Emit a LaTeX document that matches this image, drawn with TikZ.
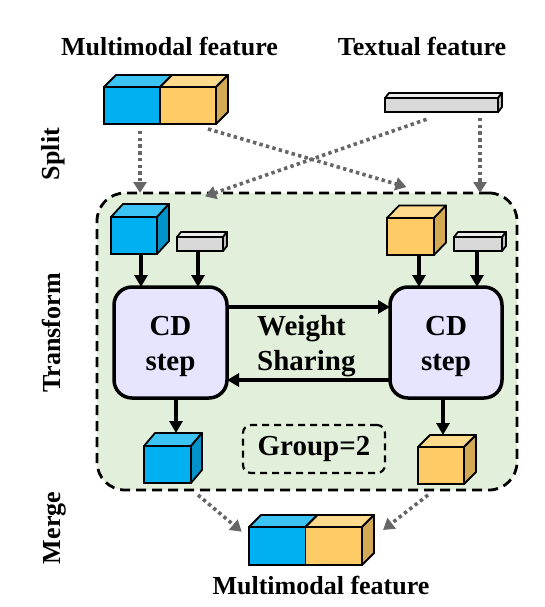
\documentclass[tikz,border=0pt]{standalone}
\usepackage{fontspec}
\setmainfont{Liberation Serif}
\usetikzlibrary{arrows.meta,calc}
\definecolor{cblue}{HTML}{00B0F0}
\definecolor{cbluetop}{HTML}{3CC3F5}
\definecolor{cblueside}{HTML}{0093CA}
\definecolor{corange}{HTML}{FFCB66}
\definecolor{corangetop}{HTML}{FFD98C}
\definecolor{corangeside}{HTML}{D4A955}
\definecolor{cgray}{HTML}{D9D9D9}
\definecolor{cgraytop}{HTML}{EBEBEB}
\definecolor{cgrayside}{HTML}{BFBFBF}
\definecolor{cgreen}{HTML}{E2EFDA}
\definecolor{clav}{HTML}{E6E4FF}
\definecolor{dgray}{HTML}{666666}
\newcommand\topface[4]{%
  \draw[edge, fill=#4] (#1.north west) -- ++(#2,#3) -- ($(#1.north east)+(#2,#3)$) -- (#1.north east) -- cycle;}
\newcommand\sideface[4]{%
  \draw[edge, fill=#4] (#1.north east) -- ++(#2,#3) -- ($(#1.south east)+(#2,#3)$) -- (#1.south east) -- cycle;}
\tikzset{
  edge/.style={draw=black, line width=1.8pt, line join=round},
  face/.style={draw=black, line width=1.8pt, inner sep=0pt, outer sep=0pt},
  lbl/.style={font=\bfseries\fontsize{26}{30}\selectfont, inner sep=0pt},
  big/.style={font=\bfseries\fontsize{29}{35}\selectfont, inner sep=0pt},
  cdbox/.style={draw=black, line width=3.5pt, fill=clav, rounded corners=18pt, minimum width=113pt, minimum height=111pt, align=center, inner sep=0pt, outer sep=0pt, font=\bfseries\fontsize{29}{35}\selectfont},
  arr/.style={line width=3.2pt, -{Triangle[width=13pt,length=12pt]}},
  dots/.style={draw=dgray, line width=3.6pt, dash pattern=on 3.4pt off 3.3pt, -{Triangle[width=13pt,length=11pt]}, color=dgray},
}
\begin{document}
\begin{tikzpicture}[x=1pt,y=1pt]
\useasboundingbox (0,0) rectangle (545,-607);
% container
\node[draw=black, fill=cgreen, line width=2.8pt, dash pattern=on 10pt off 6pt, rounded corners=28pt, minimum width=420pt, minimum height=297pt, inner sep=0pt, outer sep=0pt] (grp) at (307,-341.5) {};
% labels
\node[lbl, anchor=base] (tMM) at (169.5,-56) {Multimodal feature};
\node[lbl, anchor=base] (tTX) at (422,-56) {Textual feature};
\node[lbl, anchor=base] (bMM) at (321,-594) {Multimodal feature};
\node[lbl, rotate=90, anchor=base] (sSplit) at (59,-154) {Split};
\node[lbl, rotate=90, anchor=base] (sTrans) at (60,-333) {Transform};
\node[lbl, rotate=90, anchor=base] (sMerge) at (60,-528) {Merge};
% top multimodal cube
\node[face, fill=cblue, minimum width=56pt, minimum height=37pt] (mB) at (132,-105.5) {};
\node[face, fill=corange, minimum width=56pt, minimum height=37pt] (mO) at (188,-105.5) {};
\topface{mB}{12}{12}{cbluetop}
\topface{mO}{12}{12}{corangetop}
\sideface{mO}{12}{12}{corangeside}
% textual bar
\node[face, fill=cgray, minimum width=113pt, minimum height=14pt] (tb) at (441.5,-105) {};
\topface{tb}{4}{5}{cgraytop}
\sideface{tb}{4}{5}{cgrayside}
% inner left
\node[face, fill=cblue, minimum width=46pt, minimum height=37pt] (ciB) at (134,-235.5) {};
\topface{ciB}{12}{13}{cbluetop}
\sideface{ciB}{12}{13}{cblueside}
\node[face, fill=cgray, minimum width=46pt, minimum height=14pt] (ciG) at (200,-244) {};
\topface{ciG}{4}{5}{cgraytop}
\sideface{ciG}{4}{5}{cgrayside}
% inner right
\node[face, fill=corange, minimum width=47pt, minimum height=37pt] (ciO) at (410.5,-236.5) {};
\topface{ciO}{12}{12.5}{corangetop}
\sideface{ciO}{12}{12.5}{corangeside}
\node[face, fill=cgray, minimum width=48pt, minimum height=14pt] (ciH) at (478,-244) {};
\topface{ciH}{4}{5}{cgraytop}
\sideface{ciH}{4}{5}{cgrayside}
% CD boxes
\node[cdbox] (cdL) at (170.5,-342.5) {\rule{0pt}{27pt}CD\\step};
\node[cdbox, minimum width=112pt] (cdR) at (446,-342.5) {\rule{0pt}{27pt}CD\\step};
\node[big, anchor=base west] (wW) at (257,-335) {Weight};
\node[big, anchor=base west] (wS) at (257,-370) {Sharing};
% bottom inner cubes
\node[face, fill=cblue, minimum width=47pt, minimum height=37pt] (coB) at (167.5,-464.5) {};
\topface{coB}{11}{13}{cbluetop}
\sideface{coB}{11}{13}{cblueside}
\node[face, fill=corange, minimum width=46pt, minimum height=37pt] (coO) at (441,-465.5) {};
\topface{coO}{12}{12}{corangetop}
\sideface{coO}{12}{12}{corangeside}
% group box
\node[draw=black, line width=2.2pt, dash pattern=on 7pt off 5pt, rounded corners=8pt, minimum width=142pt, minimum height=48pt, inner sep=0pt, outer sep=0pt, big] (gbox) at (314,-449) {Group=2};
% bottom multimodal cube
\node[face, fill=cblue, minimum width=56.5pt, minimum height=38pt] (bB) at (277.25,-546) {};
\node[face, fill=corange, minimum width=56.5pt, minimum height=38pt] (bO) at (333.75,-546) {};
\topface{bB}{12}{12}{cbluetop}
\topface{bO}{12}{12}{corangetop}
\sideface{bO}{12}{12}{corangeside}
% solid arrows
\draw[arr] ([xshift=7pt]ciB.south) -- ([xshift=7pt]ciB.south |- cdL.north);
\draw[arr] ([xshift=-2pt]ciG.south) -- ([xshift=-2pt]ciG.south |- cdL.north);
\draw[arr] ([xshift=8.5pt]ciO.south) -- ([xshift=8.5pt]ciO.south |- cdR.north);
\draw[arr] ([xshift=-1pt]ciH.south) -- ([xshift=-1pt]ciH.south |- cdR.north);
\draw[arr] ([yshift=35.5pt]cdL.east) -- ([yshift=35.5pt]cdL.east -| cdR.west);
\draw[arr] ([yshift=-37.5pt]cdR.west) -- ([yshift=-37.5pt]cdR.west -| cdL.east);
\draw[arr] ([xshift=5.5pt]cdL.south) -- ([xshift=8.5pt,yshift=13pt]coB.north);
\draw[arr] ([xshift=-3pt]cdR.south) -- ([xshift=2pt,yshift=12pt]coO.north);
% dotted split arrows
\draw[dots] ([xshift=8pt,yshift=-7pt]mB.south) -- ([xshift=8pt]mB.south |- grp.north);
\draw[dots] ([shift={(20pt,-5pt)}]mO.south) -- ([shift={(-4pt,31pt)}]ciO.north);
\draw[dots] ([shift={(-15pt,-7.3pt)}]tb.south) -- ([shift={(5pt,40.7pt)}]ciG.north);
\draw[dots] ([shift={(38.5pt,-6pt)}]tb.south) -- ([xshift=38.5pt]tb.south |- grp.north);
% dotted merge arrows
\draw[dots] ([shift={(-109pt,-5pt)}]grp.south) -- ([shift={(-7.3pt,-4.7pt)}]bB.north west);
\draw[dots] ([shift={(121pt,-5pt)}]grp.south) -- ([shift={(21pt,-3pt)}]bO.north east);
\end{tikzpicture}
\end{document}
